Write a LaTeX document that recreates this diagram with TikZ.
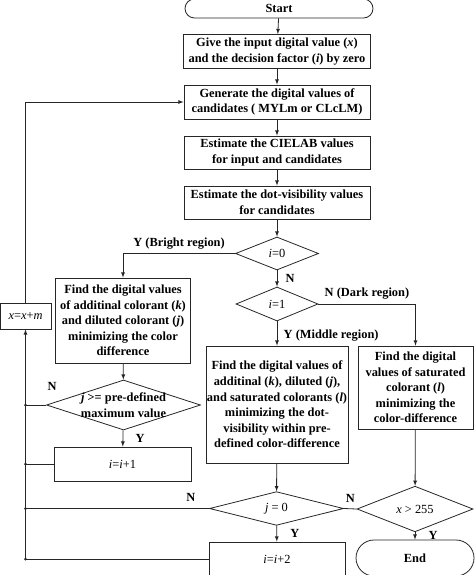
\documentclass[tikz,border=0pt]{standalone}
\usepackage{fontspec}
\setmainfont{Liberation Serif}
\usepackage{tikz}
\usetikzlibrary{shapes.geometric,shapes.misc}

\begin{document}
\begin{tikzpicture}[x=1pt,y=-1pt,>=latex,line width=0.8pt,
  every node/.style={font=\bfseries\fontsize{12.4}{15.6}\selectfont,text=black},
  box/.style={draw=black!85,align=center,inner sep=1pt},
  decision/.style={draw=black!85,diamond,inner sep=0pt,font=\fontsize{12.4}{15}\selectfont},
  term/.style={draw=black!85,rounded rectangle,inner sep=0pt},
  plain/.style={box,font=\fontsize{12.4}{15}\selectfont},
  link/.style={draw=black!85}]
\useasboundingbox (0,0) rectangle (474,575);

% main column
\node[term,minimum width=188,minimum height=19] (start) at (279,8.5) {Start};
\node[box,minimum width=187,minimum height=34] (give) at (277,51.5) {Give the input digital value (\textit{x})\\and the decision factor (\textit{i}) by zero};
\node[box,minimum width=186,minimum height=34] (gen) at (277,102) {Generate the digital values of\\candidates ( MYLm or CLcLM)};
\node[box,minimum width=186,minimum height=33] (cielab) at (277,152.5) {Estimate the CIELAB values\\for input and candidates};
\node[box,minimum width=186,minimum height=33] (dotvis) at (277,202.5) {Estimate the dot-visibility values\\for candidates};
\node[decision,minimum width=83,minimum height=33] (izero) at (277,253.5) {\textit{i}=0};
\node[decision,minimum width=82,minimum height=34] (ione) at (277,304) {\textit{i}=1};

% three regions
\node[box,minimum width=135,minimum height=85] (bright) at (123,320.5) {Find the digital values\\of additinal colorant (\textit{k})\\and diluted colorant (\textit{j})\\minimizing the color\\difference};
\node[box,minimum width=142,minimum height=117] (middle) at (277,404.5) {Find the digital values of\\additinal (\textit{k}), diluted (\textit{j}),\\and saturated colorants (\textit{l})\\minimizing the dot-\\visibility within pre-\\defined color-difference};
\node[box,minimum width=115,minimum height=83] (dark) at (415.5,387.5) {Find the digital\\values of saturated\\colorant (\textit{l})\\minimizing the\\color-difference};

% lower part
\node[plain,minimum width=51,minimum height=26] (xinc) at (25.5,316) {\textit{x}=\textit{x}+\textit{m}};
\node[decision,minimum width=154,minimum height=50,
  label={[align=center,font=\bfseries\fontsize{12.4}{15.6}\selectfont]center:{\textit{j} >= pre-defined\\maximum value}}] (jmax) at (123.5,405) {};
\node[plain,minimum width=137,minimum height=34] (iinc1) at (122.5,464) {\textit{i}=\textit{i}+1};
\node[decision,minimum width=134,minimum height=33] (jzero) at (276.5,508.5) {\textit{j} = 0};
\node[decision,minimum width=116,minimum height=26] (xmax) at (415,509) {\textit{x} > 255};
\node[plain,minimum width=136,minimum height=34] (iinc2) at (277,559) {\textit{i}=\textit{i}+2};
\node[term,minimum width=118,minimum height=36] (end) at (415,558) {End};

\draw[link,->] (start) -- (give);
\draw[link,->] (give) -- (gen);
\draw[link,->] (gen) -- (cielab);
\draw[link,->] (cielab) -- (dotvis);
\draw[link,->] (dotvis) -- (izero);
\draw[link,->] (izero.west) -| (bright.north) node[pos=0.25,above=1pt] {Y (Bright region)};
\draw[link,->] (izero) -- (ione) node[midway,right=5pt] {N};
\draw[link,->] (ione.east) -| (dark.north) node[pos=0.25,above=1pt] {N (Dark region)};
\draw[link,->] (ione) -- (middle) node[pos=0.6,right=3pt] {Y (Middle region)};
\draw[link,->] (bright) -- (jmax);
\draw[link,->] (jmax) -- (iinc1) node[midway,right=9pt] {Y};
\draw[link,->] (middle) -- (jzero);
\draw[link,->] (dark) -- (xmax);
\draw[link,->] (jzero) -- (iinc2) node[midway,right=10pt] {Y};
\draw[link,->] (xmax) -- (end) node[midway,right=10pt] {Y};
\draw[link] (xmax.west) -- (jzero.east) node[midway,above=3pt] {N};

% loop back on the left
\coordinate (b1) at (jmax.west -| xinc.south);
\coordinate (b2) at (iinc1.west -| xinc.south);
\coordinate (b3) at (jzero.west -| xinc.south);
\coordinate (b4) at (iinc2.west -| xinc.south);
\draw[link] (jmax.west) -- (b1) node[pos=0,above=11pt,xshift=6pt] {N};
\draw[link] (iinc1.west) -- (b2);
\draw[link] (jzero.west) -- (b3) node[pos=0.1,above=3pt] {N};
\draw[link] (iinc2.west) -- (b4);
\foreach \p in {b1,b2,b3,b4}
  \fill[black!85] (\p) circle (1.5);
\draw[link,->] (b4) -- (xinc.south);
\draw[link,->] (xinc.north) |- (gen.west);
\end{tikzpicture}
\end{document}
